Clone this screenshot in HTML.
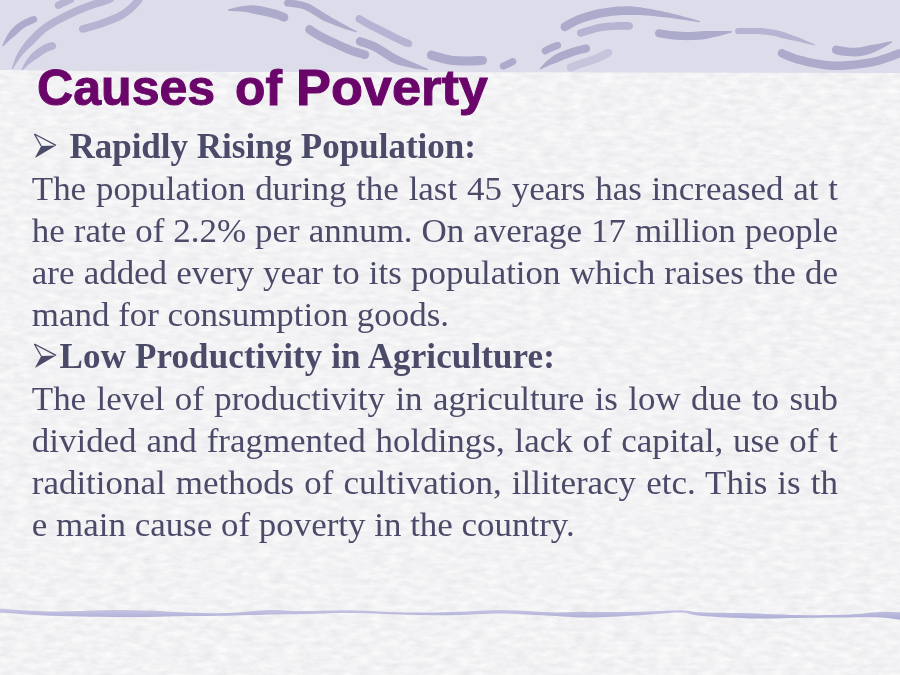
<!DOCTYPE html>
<html><head><meta charset="utf-8">
<title>Causes of Poverty</title>
<style>
html,body{margin:0;padding:0;}
body{width:900px;height:675px;overflow:hidden;background:#f1f1f3;position:relative;font-family:"Liberation Serif",serif;}
#bg{position:absolute;left:0;top:0;width:900px;height:675px;}
#title{position:absolute;left:0;top:57.5px;margin:0;font-family:"Liberation Sans",sans-serif;font-weight:bold;font-size:50.5px;color:#6a056a;white-space:nowrap;line-height:60px;-webkit-text-stroke:1px #6a056a;}
#title span{position:absolute;top:0;transform-origin:0 0;}
.l{position:absolute;left:31.8px;width:806.2px;white-space:nowrap;font-size:34.95px;line-height:42px;color:#4b4a69;transform-origin:0 32.8px;transform:scaleY(0.95);}
.j{text-align:justify;text-align-last:justify;}
.b{font-weight:bold;font-size:35px;transform:none;}
</style></head><body>
<svg id="bg" width="900" height="675" viewBox="0 0 900 675">
<rect x="0" y="60" width="900" height="615" filter="url(#paper)"/>
<polygon points="0,0 900,0 900,73 150,71.7 0,70" fill="#dddcea"/>
<defs><filter id="paper" color-interpolation-filters="sRGB" x="0" y="0" width="100%" height="100%"><feTurbulence type="fractalNoise" baseFrequency="0.07 0.19" numOctaves="3" seed="3"/><feColorMatrix type="matrix" values="0.09 0 0 0 0.905  0.09 0 0 0 0.905  0.08 0 0 0 0.917  0 0 0 0 1"/></filter><linearGradient id="lg" x1="0" y1="607" x2="0" y2="620" gradientUnits="userSpaceOnUse"><stop offset="0" stop-color="#cdcce8"/><stop offset="1" stop-color="#abaad3"/></linearGradient><filter id="bl" x="-5%" y="-20%" width="110%" height="140%"><feGaussianBlur stdDeviation="0.5"/></filter></defs>
<g filter="url(#bl)">
<!--STROKES-->
<path d="M55.0 7.0L56.3 8.4L57.0 8.8L57.7 8.9L58.2 9.0L58.8 8.9L59.3 8.8L59.7 8.6L60.2 8.4L60.6 8.2L63.7 6.6L66.8 5.2L70.0 3.7L73.1 2.2L73.5 1.8L73.8 1.3L74.1 0.7L74.3 -0.1L74.2 -1.6L74.0 -2.0L74.0 -2.0L73.8 -2.4L72.7 -3.5L72.0 -3.9L71.4 -4.0L70.8 -4.1L70.3 -4.1L67.0 -2.8L63.8 -1.3L60.6 0.2L57.4 1.8L56.9 2.0L56.5 2.2L56.1 2.5L55.7 2.8L55.3 3.2L55.0 3.7L54.8 4.3L54.6 5.1L55.0 7.0Z" fill="#b6b4d2"/>
<path d="M2.8 46.3L3.3 46.0L3.7 45.7L4.1 45.3L4.5 45.0L4.9 44.6L5.3 44.3L5.6 44.0L6.0 43.6L6.4 43.3L8.9 40.8L11.5 38.5L14.1 36.4L16.7 34.2L19.1 31.9L21.5 29.7L24.1 27.9L26.8 26.3L29.8 25.0L33.0 23.6L36.1 22.1L36.5 21.7L36.9 21.2L37.2 20.5L37.3 19.6L37.0 18.0L37.0 18.0L36.0 16.7L35.2 16.2L34.6 16.0L34.0 15.9L33.5 15.9L30.2 17.0L26.9 18.4L23.6 20.0L20.2 21.9L17.1 24.1L14.2 26.6L11.6 29.2L9.4 32.0L7.4 35.1L5.6 38.3L4.0 41.5L3.8 42.0L3.5 42.4L3.3 42.9L3.1 43.4L2.9 43.8L2.7 44.3L2.5 44.8L2.3 45.2L2.2 45.7Z" fill="#adabcb"/>
<path d="M12.4 69.2L12.7 68.8L13.1 68.4L13.4 68.0L13.7 67.6L13.9 67.2L14.2 66.8L14.5 66.3L14.8 65.9L15.1 65.5L15.3 65.1L17.2 62.1L19.1 59.2L21.1 56.5L23.3 54.0L25.6 51.5L28.1 49.1L30.6 46.8L33.1 44.4L35.5 41.9L37.9 39.5L40.3 37.1L42.8 34.8L45.3 32.6L47.9 30.6L50.6 28.7L53.4 26.9L56.4 25.2L59.4 23.6L62.4 22.0L65.5 20.5L68.6 18.9L71.8 17.4L74.9 16.0L78.0 14.6L81.2 13.2L84.4 11.9L87.5 10.6L90.7 9.5L94.0 8.3L97.3 7.3L100.6 6.2L103.9 5.2L107.3 4.1L110.6 3.1L113.7 1.1L114.0 0.4L114.2 -0.6L114.0 -2.0L114.0 -2.0L113.3 -3.2L112.6 -3.9L111.9 -4.3L108.3 -4.2L105.0 -3.2L101.7 -2.1L98.3 -1.1L94.9 -0.0L91.6 1.1L88.2 2.2L84.8 3.5L81.5 4.8L78.2 6.1L74.9 7.6L71.7 9.0L68.5 10.5L65.3 12.1L62.1 13.6L59.0 15.2L55.8 16.9L52.7 18.5L49.5 20.4L46.4 22.3L43.4 24.4L40.5 26.7L37.7 29.1L35.0 31.5L32.5 34.1L30.0 36.6L27.5 39.2L25.2 41.9L23.1 44.8L21.0 47.7L19.0 50.8L17.2 54.0L15.6 57.3L14.3 60.7L13.1 64.0L13.0 64.5L12.8 65.0L12.7 65.4L12.5 65.9L12.3 66.4L12.2 66.9L12.0 67.3L11.9 67.8L11.7 68.3L11.6 68.8Z" fill="#b6b4d2"/>
<path d="M22.4 70.3L22.8 70.0L23.2 69.6L23.6 69.3L24.0 68.9L24.4 68.6L24.7 68.2L25.1 67.9L25.4 67.5L25.8 67.2L26.1 66.9L28.6 64.5L31.3 62.5L34.1 60.6L37.0 58.8L39.7 56.7L42.4 54.7L45.0 52.9L47.7 51.4L50.5 50.4L53.7 49.5L54.1 49.3L54.6 49.0L55.0 48.7L55.4 48.2L55.8 47.6L56.1 46.7L56.0 45.0L56.0 45.0L55.2 43.5L54.5 42.9L53.9 42.5L53.4 42.3L52.9 42.2L52.3 42.1L51.8 42.2L48.2 43.1L44.5 44.5L41.0 46.4L37.9 48.5L35.0 50.7L32.3 53.1L29.8 55.8L27.5 58.7L25.4 61.7L23.6 65.0L23.4 65.5L23.2 65.9L23.0 66.4L22.8 66.9L22.6 67.3L22.4 67.8L22.2 68.3L22.0 68.7L21.8 69.2L21.6 69.7Z" fill="#b6b4d2"/>
<path d="M79.0 30.0L80.0 31.7L80.7 32.2L81.3 32.5L81.8 32.7L82.4 32.8L82.9 32.8L83.4 32.7L83.9 32.6L84.3 32.5L84.8 32.4L88.2 31.5L91.6 30.5L95.0 29.6L98.5 28.5L101.9 27.4L105.2 26.2L108.6 25.0L111.9 23.7L115.2 22.4L118.5 20.9L121.8 19.4L125.2 17.5L128.3 15.3L131.2 13.0L134.0 10.6L136.7 8.0L139.1 5.3L141.4 2.5L141.8 2.1L142.0 1.6L142.2 1.1L142.4 0.6L142.4 0.0L142.3 -0.7L142.1 -1.5L141.0 -3.0L141.0 -3.0L139.3 -3.8L138.4 -3.9L137.8 -3.8L137.2 -3.6L136.7 -3.3L136.2 -3.1L135.9 -2.7L135.6 -2.4L133.4 0.2L131.1 2.7L128.8 5.0L126.3 7.1L123.7 9.2L121.1 11.0L118.3 12.6L115.4 14.0L112.2 15.3L109.1 16.6L105.9 17.8L102.6 19.0L99.4 20.2L96.1 21.2L92.9 22.2L89.6 23.2L86.2 24.1L82.8 25.0L82.3 25.1L81.9 25.2L81.4 25.4L80.9 25.6L80.5 25.9L80.0 26.2L79.6 26.7L79.3 27.2L79.0 28.0L79.0 30.0Z" fill="#b6b4d2"/>
<path d="M228.0 10.5L228.5 10.6L229.0 10.7L229.6 10.8L230.1 10.9L230.6 10.9L231.1 11.0L231.6 11.0L232.1 11.1L232.6 11.1L233.1 11.1L233.6 11.2L237.1 11.3L240.6 11.5L244.0 11.8L247.3 12.2L250.6 12.9L253.8 13.7L257.1 14.4L260.4 15.0L263.8 15.7L267.1 16.5L270.5 17.3L273.8 18.2L276.9 19.1L279.9 20.2L283.0 21.5L283.5 21.6L284.1 21.6L284.7 21.6L285.3 21.5L286.0 21.2L286.8 20.7L287.8 19.4L288.0 19.0L288.0 19.0L288.1 18.6L288.3 16.9L288.1 16.0L287.9 15.4L287.6 14.9L287.3 14.4L286.9 14.1L286.5 13.7L283.2 12.2L279.7 10.9L276.1 9.8L272.6 8.9L269.1 8.1L265.7 7.3L262.2 6.5L258.6 5.8L255.0 5.4L251.3 5.3L247.6 5.5L243.9 5.9L240.3 6.5L236.8 7.2L233.3 8.1L232.9 8.2L232.4 8.3L231.9 8.4L231.4 8.5L230.9 8.7L230.4 8.8L229.9 8.9L229.4 9.0L229.0 9.2L228.5 9.3L228.0 9.5Z" fill="#adabcb"/>
<path d="M284.0 2.5L284.2 4.4L284.6 5.1L285.1 5.6L285.5 6.0L286.0 6.2L286.5 6.4L287.0 6.5L287.6 6.6L288.1 6.6L291.6 7.0L294.9 7.4L298.2 7.9L301.3 8.6L304.3 9.6L307.2 10.9L310.1 12.5L312.9 14.2L315.8 16.1L318.8 18.1L322.0 19.9L325.3 21.4L328.6 22.8L331.9 24.1L335.2 25.4L338.5 26.6L341.8 27.8L345.1 29.0L348.5 30.1L351.9 31.1L355.3 32.0L355.8 32.2L356.2 32.3L356.7 32.4L356.8 32.4L357.2 31.6L357.1 31.5L356.7 31.3L356.2 31.0L355.8 30.8L352.7 29.1L349.6 27.5L346.5 25.8L343.5 24.1L340.4 22.4L337.4 20.7L334.3 18.9L331.3 17.2L328.4 15.4L325.5 13.7L322.6 12.0L319.7 10.1L316.7 8.2L313.7 6.3L310.4 4.5L306.9 2.9L303.2 1.7L299.5 0.9L295.9 0.3L292.3 -0.1L288.8 -0.5L288.4 -0.5L287.9 -0.6L287.4 -0.6L286.9 -0.5L286.4 -0.4L285.9 -0.2L285.4 0.2L284.8 0.8L284.0 2.5Z" fill="#adabcb"/>
<path d="M306.0 27.0L305.3 29.0L305.3 29.9L305.4 30.5L305.6 31.1L305.8 31.6L306.1 32.1L306.5 32.5L306.8 32.8L307.2 33.1L307.7 33.4L308.1 33.7L311.0 35.7L314.1 37.7L317.2 39.6L320.5 41.3L323.7 42.9L326.9 44.4L330.1 45.8L333.3 47.3L336.5 48.8L339.7 50.3L342.9 51.8L346.2 53.2L349.6 54.5L353.1 55.7L356.5 56.8L359.9 57.8L363.3 58.8L363.7 58.9L364.2 59.0L364.7 59.1L365.2 59.1L365.8 59.0L366.4 58.8L367.0 58.5L367.6 58.1L368.4 57.2L369.0 56.0L369.0 56.0L369.2 54.7L369.0 53.5L368.7 52.8L368.4 52.2L368.0 51.7L367.6 51.4L367.1 51.0L366.7 50.8L366.2 50.6L365.7 50.5L362.4 49.5L359.1 48.5L355.8 47.5L352.6 46.4L349.5 45.1L346.4 43.8L343.2 42.4L340.1 41.0L337.0 39.5L333.8 38.0L330.6 36.5L327.5 35.0L324.4 33.6L321.5 32.0L318.6 30.3L315.8 28.5L313.0 26.5L312.6 26.3L312.2 26.0L311.8 25.7L311.3 25.5L310.8 25.3L310.3 25.2L309.7 25.1L309.1 25.1L308.4 25.3L307.5 25.6L306.0 27.0Z" fill="#adabcb"/>
<path d="M356.0 17.0L355.5 18.9L355.6 19.7L355.7 20.4L356.0 20.9L356.3 21.4L356.7 21.7L357.1 22.1L357.5 22.3L357.9 22.6L358.3 22.8L361.4 24.6L364.5 26.4L367.6 28.1L370.8 29.8L374.0 31.3L377.1 32.8L380.2 34.4L383.3 36.0L386.5 37.6L389.6 39.1L392.7 40.7L395.9 42.3L399.2 43.8L402.5 45.3L405.8 46.6L409.3 47.3L409.9 47.1L410.6 46.7L411.4 46.0L412.0 45.0L412.0 45.0L412.3 43.9L412.2 42.7L411.9 42.0L411.6 41.4L408.6 39.5L405.4 38.2L402.3 36.9L399.3 35.4L396.2 33.9L393.0 32.3L389.9 30.7L386.8 29.2L383.7 27.6L380.5 26.0L377.4 24.4L374.2 22.9L371.2 21.4L368.2 19.7L365.2 18.0L362.3 16.3L361.8 16.0L361.4 15.8L361.0 15.5L360.5 15.3L360.0 15.2L359.4 15.1L358.8 15.1L358.2 15.3L357.4 15.6L356.0 17.0Z" fill="#b6b4d2"/>
<path d="M356.0 40.0L355.8 42.1L356.0 42.9L356.3 43.6L356.7 44.1L357.1 44.6L357.5 44.9L357.9 45.2L358.4 45.4L358.9 45.6L359.4 45.7L359.8 45.9L363.1 47.0L366.4 48.1L369.5 49.3L372.4 50.6L375.3 52.1L378.1 53.8L381.0 55.6L383.9 57.5L387.0 59.5L390.1 61.4L393.5 63.1L397.0 64.5L400.5 65.4L404.0 66.3L407.5 67.0L411.0 67.7L414.5 68.4L418.0 69.0L421.5 69.5L425.1 69.8L425.6 69.9L426.1 69.9L426.6 70.0L427.1 70.0L427.6 70.0L427.9 70.0L428.1 69.0L427.9 68.8L427.4 68.6L427.0 68.4L426.5 68.2L426.0 68.0L425.6 67.8L422.3 66.5L419.1 65.1L415.9 63.8L412.7 62.3L409.4 61.0L406.3 59.6L403.2 58.2L400.2 56.7L397.2 55.2L394.3 53.8L391.5 52.1L388.7 50.3L385.7 48.3L382.7 46.4L379.5 44.5L376.2 42.8L372.7 41.3L369.3 39.9L365.9 38.8L362.6 37.7L362.1 37.5L361.6 37.4L361.1 37.2L360.7 37.1L360.2 37.1L359.6 37.1L359.1 37.2L358.5 37.4L357.9 37.7L357.2 38.3L356.0 40.0Z" fill="#adabcb"/>
<path d="M427.0 54.0L427.0 56.1L427.2 57.0L427.6 57.7L427.9 58.2L428.3 58.6L428.7 58.9L429.2 59.2L429.6 59.4L430.1 59.6L430.6 59.7L431.0 59.9L431.5 60.0L434.9 61.0L438.3 62.0L441.7 62.9L445.3 63.8L449.0 64.5L452.7 65.0L456.4 65.3L460.0 65.5L463.6 65.6L467.2 65.6L470.7 65.6L474.4 65.5L478.0 65.3L481.5 65.0L484.9 64.2L485.4 63.8L485.9 63.3L486.3 62.7L486.7 61.8L487.0 60.0L487.0 60.0L486.5 58.2L486.0 57.4L485.4 56.8L484.9 56.4L484.3 56.2L480.8 55.9L477.4 56.1L474.0 56.3L470.6 56.4L467.2 56.4L463.7 56.4L460.3 56.3L457.0 56.2L453.7 55.9L450.5 55.4L447.3 54.8L444.0 54.0L440.7 53.1L437.4 52.2L434.1 51.2L433.6 51.1L433.1 50.9L432.6 50.8L432.1 50.7L431.6 50.6L431.1 50.6L430.5 50.7L429.9 50.9L429.3 51.1L428.7 51.5L428.0 52.1L427.0 54.0Z" fill="#adabcb"/>
<path d="M500.0 67.5L501.2 69.0L501.9 69.4L502.5 69.6L503.1 69.7L503.6 69.6L504.1 69.6L504.6 69.4L505.1 69.2L505.6 69.0L508.8 67.5L512.1 66.0L515.2 64.3L515.5 63.9L515.9 63.5L516.1 62.9L516.3 62.2L516.3 61.1L516.0 60.0L516.0 60.0L515.3 59.1L514.5 58.4L513.8 58.2L513.1 58.1L512.6 58.1L512.0 58.1L508.9 59.6L505.8 61.1L502.7 62.5L502.3 62.6L501.8 62.8L501.4 63.1L501.0 63.4L500.6 63.8L500.2 64.2L499.9 64.8L499.7 65.6L500.0 67.5Z" fill="#adabcb"/>
<path d="M540.3 69.4L540.8 69.3L541.3 69.1L541.8 68.9L542.2 68.7L542.7 68.5L543.2 68.3L543.7 68.1L544.1 67.8L544.6 67.6L545.0 67.4L548.2 65.9L551.3 64.6L554.5 63.4L557.7 62.3L560.8 61.0L563.9 59.6L567.0 58.4L570.2 57.2L573.5 56.1L576.7 55.1L579.9 54.1L583.2 53.3L586.6 52.5L587.1 52.4L587.6 52.2L588.0 52.0L588.5 51.7L588.9 51.3L589.3 50.9L589.7 50.3L590.0 49.4L590.0 47.5L590.0 47.5L589.1 45.8L588.5 45.2L587.9 44.8L587.3 44.6L586.8 44.4L586.2 44.4L585.7 44.4L585.2 44.4L584.7 44.6L581.3 45.4L577.8 46.2L574.3 47.2L570.9 48.3L567.5 49.5L564.1 50.8L560.8 52.1L557.4 53.6L554.2 55.2L551.2 57.4L548.3 59.7L545.6 62.1L543.1 64.7L542.7 65.1L542.4 65.5L542.0 65.8L541.7 66.2L541.3 66.6L541.0 67.0L540.7 67.4L540.3 67.8L540.0 68.2L539.7 68.6Z" fill="#adabcb"/>
<path d="M542.0 52.5L543.3 53.9L544.0 54.3L544.7 54.4L545.3 54.4L545.8 54.4L546.3 54.3L546.8 54.1L547.2 53.8L547.6 53.6L550.7 52.1L553.7 50.7L556.9 49.4L560.0 48.0L560.4 47.6L560.8 47.1L561.1 46.4L561.2 45.5L561.0 44.0L561.0 44.0L560.1 42.7L559.4 42.2L558.7 41.9L558.2 41.8L557.6 41.7L554.2 42.8L550.9 44.1L547.6 45.6L544.4 47.3L543.9 47.5L543.5 47.7L543.0 48.0L542.7 48.3L542.3 48.7L542.0 49.2L541.8 49.8L541.6 50.6L542.0 52.5Z" fill="#adabcb"/>
<path d="M567.0 69.0L568.2 70.6L568.9 71.1L569.5 71.4L570.1 71.5L570.7 71.6L571.2 71.6L571.7 71.5L572.2 71.3L572.7 71.2L573.1 71.0L576.4 69.7L579.6 68.5L582.8 67.4L586.0 66.3L589.4 65.3L592.8 64.2L596.3 62.9L599.6 61.4L602.9 59.9L606.1 58.4L609.3 56.9L612.0 54.5L612.2 53.9L612.4 53.1L612.2 51.5L612.0 51.0L612.0 51.0L611.7 50.5L610.6 49.4L609.9 49.0L609.2 48.8L605.7 49.5L602.5 51.1L599.4 52.6L596.3 54.0L593.3 55.3L590.1 56.5L586.9 57.5L583.6 58.5L580.2 59.6L576.8 60.8L573.4 62.1L570.2 63.4L569.7 63.6L569.2 63.7L568.8 64.0L568.4 64.2L568.0 64.6L567.6 65.0L567.3 65.5L567.0 66.1L566.8 67.0L567.0 69.0Z" fill="#c7c5de"/>
<path d="M561.0 29.0L562.4 30.5L563.2 31.0L563.9 31.2L564.5 31.2L565.1 31.2L565.7 31.1L566.2 31.0L566.7 30.8L567.1 30.6L567.5 30.3L568.0 30.0L571.0 28.3L573.9 26.6L576.9 25.1L579.8 23.7L582.9 22.6L586.1 21.5L589.3 20.5L592.6 19.6L595.8 18.7L599.1 18.0L602.5 17.3L605.8 16.8L609.2 16.3L612.6 15.8L615.9 15.5L619.3 15.2L622.7 15.0L626.1 14.9L629.5 14.9L632.9 14.9L636.2 14.9L639.7 15.0L643.1 15.2L646.5 15.5L650.0 15.8L653.4 16.1L656.9 16.5L660.4 16.9L663.8 17.2L667.3 17.6L670.7 18.1L674.2 18.5L677.6 19.0L681.1 19.6L684.6 20.1L688.0 20.6L691.5 21.1L695.0 21.6L695.5 21.7L696.0 21.8L696.5 21.8L697.0 21.9L697.4 22.0L697.9 22.0L698.4 22.1L698.9 22.1L699.4 22.2L699.9 22.2L700.1 21.2L699.7 21.0L699.2 20.9L698.7 20.7L698.2 20.6L697.8 20.4L697.3 20.3L696.8 20.2L696.3 20.0L695.8 19.9L695.4 19.7L692.0 18.8L688.6 17.8L685.2 16.9L681.8 16.0L678.4 15.1L675.0 14.2L671.6 13.4L668.2 12.6L664.7 11.9L661.3 11.1L657.8 10.4L654.4 9.7L650.9 9.1L647.4 8.4L643.9 7.9L640.4 7.3L636.8 6.9L633.2 6.5L629.6 6.3L626.0 6.3L622.4 6.4L618.7 6.6L615.1 6.8L611.6 7.2L608.0 7.7L604.4 8.2L600.9 8.8L597.3 9.5L593.8 10.3L590.3 11.2L586.8 12.2L583.4 13.2L579.9 14.4L576.5 15.7L573.1 17.3L569.8 19.0L566.6 20.8L563.6 22.6L563.2 22.8L562.8 23.1L562.3 23.3L562.0 23.6L561.6 24.0L561.3 24.4L561.0 24.9L560.7 25.4L560.6 26.1L560.5 27.0L561.0 29.0Z" fill="#adabcb"/>
<path d="M577.0 34.0L578.0 35.7L578.7 36.2L579.3 36.5L579.9 36.7L580.4 36.7L580.9 36.7L581.5 36.7L581.9 36.5L582.4 36.4L582.9 36.2L586.3 35.2L589.6 34.2L592.9 33.2L596.2 32.3L599.4 31.5L602.7 30.9L605.9 30.5L609.3 30.2L612.7 30.0L616.1 29.9L619.6 29.8L623.0 29.7L626.5 29.7L629.9 29.7L630.5 29.6L631.0 29.3L631.5 29.0L632.0 28.6L632.5 27.9L633.0 26.0L633.0 26.0L632.5 24.1L632.0 23.4L631.5 23.0L631.0 22.6L630.5 22.4L630.1 22.2L626.6 22.1L623.0 22.1L619.4 22.1L615.9 22.3L612.3 22.4L608.8 22.6L605.1 22.9L601.4 23.4L597.8 24.0L594.3 24.9L590.8 25.9L587.4 26.9L584.0 27.9L580.7 28.9L580.2 29.1L579.7 29.2L579.3 29.4L578.8 29.6L578.4 29.9L578.0 30.2L577.6 30.7L577.2 31.2L577.0 32.0L577.0 34.0Z" fill="#b6b4d2"/>
<path d="M655.0 32.7L655.2 34.7L655.6 35.5L656.0 36.0L656.5 36.5L656.9 36.8L657.4 37.0L657.9 37.2L658.3 37.3L658.8 37.4L659.3 37.5L662.8 38.0L666.3 38.5L669.8 39.0L673.4 39.4L677.0 39.8L680.6 40.0L684.2 40.1L687.8 40.2L691.4 40.1L695.0 40.0L698.6 39.8L702.1 39.5L705.6 39.0L709.1 38.3L712.6 37.5L716.0 36.7L719.5 35.9L722.9 35.0L726.3 34.1L729.7 33.0L730.2 32.9L730.7 32.7L731.1 32.6L731.6 32.4L732.1 32.2L731.9 31.2L731.4 31.1L730.9 31.1L730.4 31.1L729.9 31.1L729.4 31.0L725.9 31.0L722.4 31.1L718.8 31.1L715.4 31.1L711.8 31.1L708.3 31.1L704.8 31.1L701.4 31.3L698.0 31.6L694.6 31.8L691.2 32.0L687.8 32.0L684.4 32.0L681.0 31.8L677.6 31.6L674.2 31.3L670.8 30.9L667.5 30.5L664.0 29.9L660.6 29.4L660.1 29.3L659.6 29.3L659.1 29.2L658.6 29.2L658.0 29.3L657.5 29.5L656.9 29.8L656.4 30.2L655.8 30.8L655.0 32.7Z" fill="#adabcb"/>
<path d="M735.0 31.0L735.5 32.7L736.0 33.3L736.5 33.7L737.0 33.9L737.5 34.0L738.0 34.1L738.5 34.1L739.0 34.1L742.5 34.1L746.0 34.1L749.5 34.1L753.0 34.1L756.4 34.1L759.9 34.2L763.3 34.4L766.6 34.7L769.9 35.2L773.3 35.8L776.6 36.6L779.9 37.4L783.2 38.4L786.6 39.1L790.1 39.9L793.5 40.6L796.9 41.3L800.3 42.1L803.7 42.9L807.1 43.7L810.5 44.5L814.0 45.2L814.5 45.3L814.9 45.3L815.1 44.7L814.8 44.5L814.3 44.2L811.1 42.8L807.9 41.4L804.7 40.0L801.4 38.6L798.1 37.3L794.8 36.1L791.5 34.9L788.2 33.7L784.9 32.5L781.5 31.5L778.0 30.6L774.5 29.8L770.9 29.2L767.3 28.7L763.7 28.3L760.1 28.1L756.6 28.0L753.0 27.9L749.5 27.9L746.0 28.0L742.5 28.0L739.0 28.0L738.5 28.0L738.0 28.0L737.5 28.0L737.0 28.2L736.5 28.4L736.0 28.8L735.5 29.3L735.0 31.0Z" fill="#b6b4d2"/>
<path d="M832.0 49.0L832.1 51.1L832.4 51.9L832.8 52.5L833.2 53.0L833.6 53.3L834.0 53.6L834.5 53.9L835.0 54.1L835.4 54.2L835.9 54.3L836.5 54.4L840.0 55.2L843.7 55.7L847.4 56.1L851.0 56.3L854.8 56.4L858.6 56.2L862.4 55.7L866.1 54.9L869.6 54.0L873.0 52.7L876.3 51.2L879.5 49.7L882.7 48.1L885.9 46.3L888.9 44.4L889.3 44.2L889.8 43.9L890.2 43.6L890.6 43.3L891.0 43.0L891.5 42.8L891.9 42.5L892.2 42.2L891.8 41.2L891.4 41.2L890.9 41.3L890.4 41.4L889.9 41.4L889.4 41.5L888.9 41.6L888.4 41.7L887.9 41.8L884.4 42.6L881.0 43.3L877.6 43.9L874.2 44.5L870.7 45.0L867.4 45.7L864.1 46.5L861.0 47.2L857.8 47.6L854.7 47.7L851.4 47.7L848.1 47.4L844.8 47.1L841.6 46.6L838.3 45.9L837.8 45.8L837.4 45.7L836.9 45.6L836.4 45.6L835.8 45.6L835.3 45.7L834.7 45.8L834.2 46.1L833.5 46.5L832.9 47.1L832.0 49.0Z" fill="#adabcb"/>
<path d="M778.0 51.7L777.8 53.7L777.9 54.6L778.2 55.2L778.5 55.8L778.9 56.2L779.3 56.5L779.7 56.8L780.1 57.1L780.5 57.3L781.0 57.5L781.4 57.7L784.6 59.1L788.0 60.4L791.4 61.8L794.9 62.9L798.4 64.0L801.9 64.8L805.3 65.7L808.8 66.4L812.3 67.2L815.8 67.8L819.3 68.5L822.9 69.0L826.5 69.4L830.1 69.8L833.8 70.0L837.4 70.0L841.1 69.9L844.7 69.7L848.2 69.5L851.8 69.2L855.3 68.8L858.9 68.4L862.4 67.9L865.9 67.4L869.4 66.9L873.0 66.3L876.6 65.5L880.2 64.5L883.6 63.4L886.9 62.3L890.3 61.2L893.7 60.0L897.0 58.8L900.3 57.5L900.8 57.3L901.2 57.1L901.6 56.8L902.0 56.5L902.4 56.0L902.7 55.5L903.0 54.9L903.2 54.0L903.0 52.0L903.0 52.0L901.9 50.3L901.2 49.8L900.5 49.5L899.9 49.3L899.3 49.2L898.8 49.2L898.3 49.3L897.8 49.4L897.3 49.6L894.1 50.8L890.8 52.0L887.6 53.2L884.3 54.3L881.0 55.3L877.8 56.4L874.6 57.3L871.4 58.0L868.1 58.6L864.7 59.0L861.3 59.5L857.8 60.0L854.4 60.4L851.0 60.7L847.6 61.0L844.1 61.3L840.8 61.5L837.4 61.5L834.1 61.5L830.7 61.3L827.4 61.0L824.0 60.6L820.7 60.1L817.3 59.5L814.0 58.9L810.6 58.2L807.2 57.4L803.9 56.6L800.6 55.8L797.4 54.9L794.2 53.8L791.1 52.6L788.0 51.3L784.8 49.9L784.3 49.7L783.8 49.5L783.3 49.3L782.9 49.1L782.3 49.1L781.8 49.0L781.2 49.1L780.6 49.2L779.9 49.5L779.2 50.0L778.0 51.7Z" fill="#adabcb"/>
<!--/STROKES-->
<!--LINE--><path d="M-2.0 608.5L6.6 609.1L15.0 609.7L23.5 610.3L32.1 610.8L40.9 611.3L50.0 611.5L59.8 611.5L70.1 611.3L80.8 611.0L91.2 610.6L101.1 610.3L110.0 610.1L117.9 610.1L125.2 610.1L131.9 610.2L138.1 610.3L144.1 610.4L150.0 610.6L155.4 610.8L160.2 611.1L164.7 611.4L169.3 611.8L174.2 612.1L180.0 612.3L186.6 612.5L193.9 612.8L201.6 613.0L209.4 613.2L217.3 613.2L225.0 613.1L232.7 612.7L240.6 612.2L248.4 611.5L256.1 610.8L263.4 610.2L270.0 609.9L275.6 609.9L280.4 610.0L284.7 610.4L289.1 610.7L294.0 611.0L300.0 611.1L307.2 611.0L315.2 610.9L323.8 610.6L332.6 610.4L341.4 610.3L350.0 610.3L358.3 610.5L366.7 610.8L375.0 611.3L383.3 611.7L391.7 612.1L400.0 612.3L408.3 612.4L416.7 612.5L425.0 612.4L433.3 612.4L441.7 612.3L450.0 612.1L458.3 611.8L466.7 611.4L475.0 610.9L483.3 610.5L491.7 610.2L500.0 610.1L508.6 610.3L517.4 610.6L526.2 611.1L534.8 611.6L542.8 612.0L550.0 612.3L556.3 612.4L561.9 612.3L566.9 612.2L571.5 612.0L575.8 611.9L580.0 611.8L583.7 611.8L586.7 611.9L589.4 611.9L592.2 612.0L595.6 612.1L600.0 612.1L605.5 612.1L611.9 612.1L618.8 612.1L625.9 612.0L633.1 611.9L640.0 611.8L646.9 611.6L654.1 611.3L661.2 610.9L668.1 610.6L674.5 610.4L680.0 610.3L684.1 610.4L687.0 610.7L689.4 611.1L691.9 611.6L695.2 612.0L700.0 612.3L706.6 612.5L714.4 612.7L723.1 612.8L732.2 612.9L741.3 613.1L750.0 613.3L758.3 613.6L766.7 613.9L775.0 614.3L783.3 614.6L791.7 614.9L800.0 615.1L808.6 615.2L817.4 615.2L826.2 615.1L834.8 614.9L842.8 614.7L850.0 614.5L856.2 614.1L861.8 613.7L866.8 613.1L871.3 612.6L875.7 612.2L880.0 611.9L884.1 611.8L887.9 611.8L891.5 611.9L895.0 612.1L898.4 612.2L902.0 612.3L902.0 619.9L898.4 619.5L895.0 619.0L891.5 618.5L887.9 618.0L884.1 617.7L880.0 617.4L875.7 617.2L871.3 617.2L866.8 617.2L861.8 617.3L856.2 617.3L850.0 617.4L842.8 617.5L834.8 617.5L826.2 617.6L817.4 617.7L808.6 617.8L800.0 617.9L791.7 618.0L783.3 618.2L775.0 618.4L766.7 618.5L758.3 618.5L750.0 618.4L741.3 618.1L732.2 617.8L723.1 617.3L714.4 616.8L706.6 616.2L700.0 615.7L695.2 615.1L691.9 614.4L689.4 613.7L687.0 613.1L684.1 612.6L680.0 612.4L674.5 612.5L668.1 612.9L661.2 613.5L654.1 614.1L646.9 614.7L640.0 615.2L633.1 615.6L625.9 616.0L618.8 616.4L611.9 616.7L605.5 617.0L600.0 617.2L595.6 617.4L592.2 617.5L589.4 617.5L586.7 617.5L583.7 617.5L580.0 617.4L575.8 617.2L571.5 617.0L566.9 616.7L561.9 616.4L556.3 616.0L550.0 615.7L542.8 615.3L534.8 614.9L526.2 614.4L517.4 614.0L508.6 613.6L500.0 613.5L491.7 613.6L483.3 613.9L475.0 614.3L466.7 614.7L458.3 615.0L450.0 615.2L441.7 615.2L433.3 615.2L425.0 615.1L416.7 614.9L408.3 614.7L400.0 614.5L391.7 614.3L383.3 613.9L375.0 613.6L366.7 613.3L358.3 613.0L350.0 612.9L341.4 612.9L332.6 613.1L323.8 613.4L315.2 613.7L307.2 613.9L300.0 614.1L294.0 614.2L289.1 614.3L284.7 614.3L280.4 614.3L275.6 614.4L270.0 614.5L263.4 614.7L256.1 614.9L248.4 615.1L240.6 615.3L232.7 615.5L225.0 615.7L217.3 615.8L209.4 615.9L201.6 616.0L193.9 616.0L186.6 616.1L180.0 616.2L174.2 616.3L169.3 616.4L164.7 616.6L160.2 616.7L155.4 616.8L150.0 616.9L144.1 617.0L138.1 617.0L131.9 617.0L125.2 617.0L117.9 617.0L110.0 616.9L101.1 616.8L91.2 616.7L80.8 616.5L70.1 616.3L59.8 616.0L50.0 615.7L40.9 615.3L32.1 614.8L23.5 614.2L15.0 613.6L6.6 613.0L-2.0 612.4Z" fill="url(#lg)"/><!--/LINE-->
</g>
<g id="bullets" role="img" aria-label="➢" fill="#4b4a69" stroke="#4b4a69" stroke-width="1.3" stroke-linejoin="miter">
<path d="M41.2 146L56 145.4L34.9 158Z" stroke="none"/><path d="M34.4 134L56 145.4M34.4 134L41.2 146" fill="none"/>
<path d="M41.2 356L56 355.4L34.9 368Z" stroke="none"/><path d="M34.4 344L56 355.4M34.4 344L41.2 356" fill="none"/>
</g>
</svg>
<h1 id="title"><span style="left:37.3px;transform:scaleX(0.992)">Causes </span><span style="left:234.7px;transform:scaleX(0.985)">of </span><span style="left:296px;transform:scaleX(1.036)">Poverty</span></h1>
<div class="l b" style="top:126px;left:69.4px">Rapidly Rising Population:</div>
<div class="l j" style="top:168px">The population during the last 45 years has increased at t</div>
<div class="l j" style="top:210px">he rate of 2.2% per annum. On average 17 million people</div>
<div class="l j" style="top:252px">are added every year to its population which raises the de</div>
<div class="l" style="top:294px">mand for consumption goods.</div>
<div class="l b" style="top:336px;left:59.6px;letter-spacing:0.12px">Low Productivity in Agriculture:</div>
<div class="l j" style="top:378px">The level of productivity in agriculture is low due to sub</div>
<div class="l j" style="top:420px">divided and fragmented holdings, lack of capital, use of t</div>
<div class="l j" style="top:462px">raditional methods of cultivation, illiteracy etc. This is th</div>
<div class="l" style="top:504px">e main cause of poverty in the country.</div>
</body></html>
